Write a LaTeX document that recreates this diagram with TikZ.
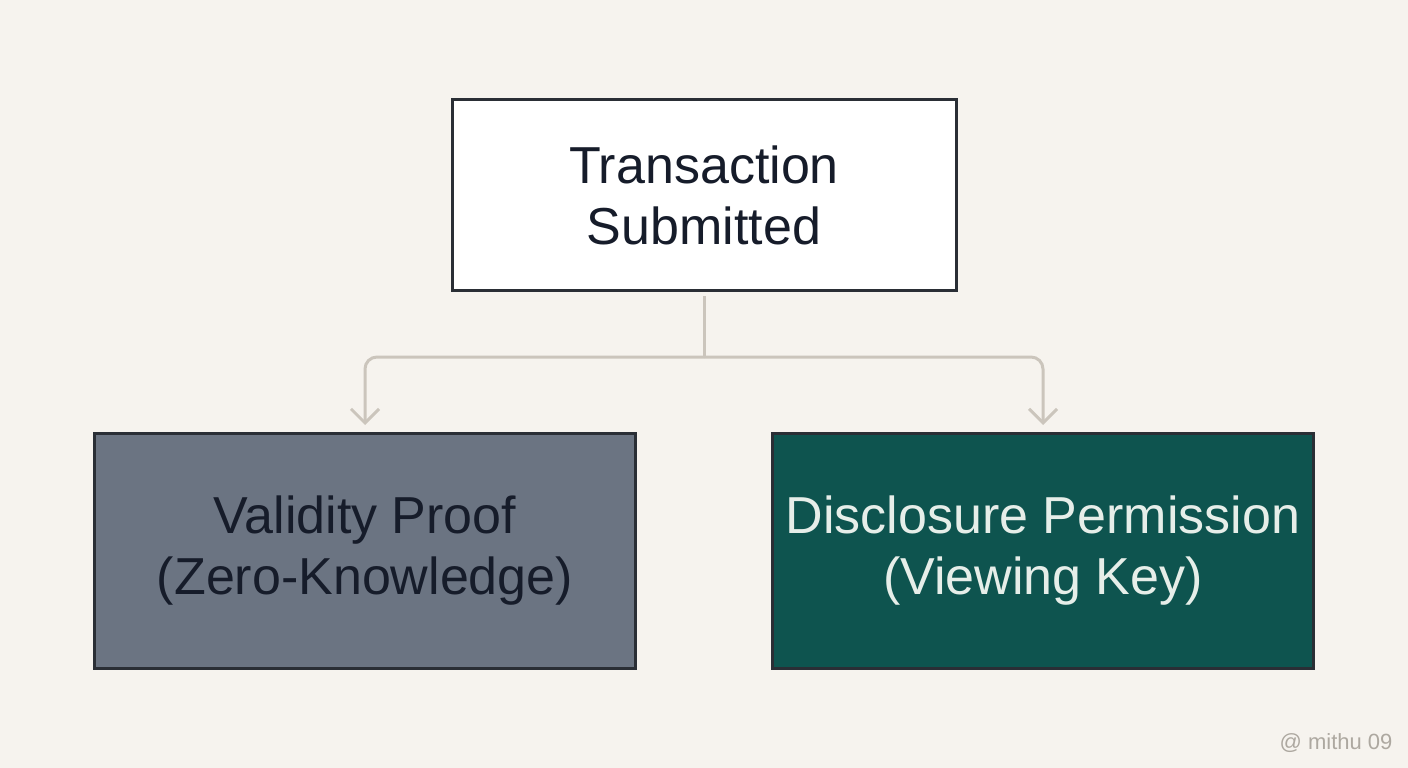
\documentclass[tikz,border=0pt]{standalone}
\usepackage{fontspec}
\setmainfont{Liberation Sans}
\usetikzlibrary{positioning, arrows.meta}

\definecolor{paper}{HTML}{F6F3EE}
\definecolor{ink}{HTML}{2A2E35}
\definecolor{slate}{HTML}{6B7482}
\definecolor{teal}{HTML}{0E544F}
\definecolor{wire}{HTML}{CBC5BC}
\definecolor{darktext}{HTML}{161C2A}
\definecolor{lighttext}{HTML}{E6EEE9}

\tikzset{
	box/.style={draw=ink, line width=3pt, align=center, inner sep=0pt,
		font=\fontsize{52}{61}\selectfont},
	txbox/.style={box, fill=white, text=darktext, minimum width=504pt, minimum height=191pt},
	proofbox/.style={box, fill=slate, text=darktext, minimum width=541pt, minimum height=235pt},
	keybox/.style={box, fill=teal, text=lighttext, minimum width=541pt, minimum height=235pt},
	link/.style={draw=wire, line width=3pt, rounded corners=12pt,
		-{Straight Barb[length=14pt, width=28pt, line width=3pt]}, shorten >=7pt}
}

\begin{document}
\begin{tikzpicture}[x=1pt, y=-1pt]
	\useasboundingbox[fill=paper] (0,0) rectangle (1408,768);
	
	\node[txbox] (tx) at (704,195) {Transaction\\Submitted};
	\node[proofbox] (valid) at (365,551) {Validity Proof\\(Zero-Knowledge)};
	\node[keybox] (disclose) at (1043,551) {Disclosure Permission\\(Viewing Key)};
	
	% split point of the two branches
	\coordinate (fork) at (704,357);
	
	\draw[wire, line width=3pt] ([yshift=-4pt]tx.south) -- (fork);
	\draw[link] (fork) -| (valid.north);
	\draw[link] (fork) -| (disclose.north);
	
	\node[text=wire!85!black, font=\fontsize{22}{26}\selectfont, anchor=east] (mark) at (1396,743) {@ mithu 09};
\end{tikzpicture}
\end{document}
